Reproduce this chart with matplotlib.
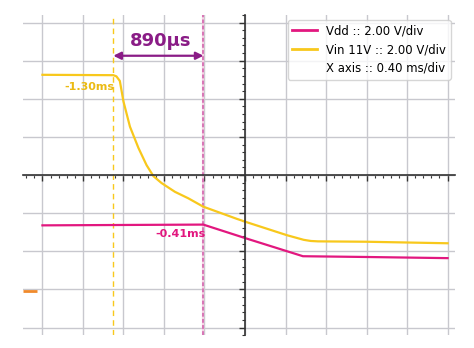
import matplotlib
matplotlib.use("Agg")
import matplotlib.pyplot as plt
from matplotlib.ticker import MultipleLocator, NullFormatter
from matplotlib.lines import Line2D

# time in ms, trace positions in screen divisions
ms_per_div = 0.40

vin_t = [-2.00, -1.30, -1.27, -1.236, -1.20, -1.136, -1.052, -0.972, -0.904,
         -0.824, -0.692, -0.56, -0.412, -0.08, 0.02, 0.416, 0.58, 0.65,
         0.72, 1.2, 2.0]
vin_y = [2.63, 2.62, 2.59, 2.47, 1.93, 1.27, 0.71, 0.26, -0.03,
         -0.21, -0.44, -0.61, -0.83, -1.15, -1.24, -1.58, -1.70, -1.73,
         -1.74, -1.75, -1.79]

vdd_t = [-2.00, -0.412, 0.02, 0.572, 1.2, 2.0]
vdd_y = [-1.32, -1.30, -1.67, -2.13, -2.15, -2.18]

cursor_vin = -1.30
cursor_vdd = -0.41
gnd_level = -3.05

pink = "#E2177F"
yellow = "#F8C81C"
purple = "#8A1C86"


def main():
    fig = plt.figure(figsize=(4.74, 3.48), dpi=100)
    ax = fig.add_axes([0.0485, 0.037, 0.912, 0.92])

    ax.set_xlim(-2.192, 2.076)
    ax.set_ylim(-4.2, 4.2)

    ax.xaxis.set_major_locator(MultipleLocator(ms_per_div))
    ax.xaxis.set_minor_locator(MultipleLocator(ms_per_div / 5))
    ax.yaxis.set_major_locator(MultipleLocator(1))
    ax.yaxis.set_minor_locator(MultipleLocator(0.2))
    ax.xaxis.set_major_formatter(NullFormatter())
    ax.yaxis.set_major_formatter(NullFormatter())
    ax.grid(True, which="major", color="#c8c8ce", lw=1.0)

    for s in ["top", "right"]:
        ax.spines[s].set_visible(False)
    ax.spines["left"].set_position(("data", 0))
    ax.spines["bottom"].set_position(("data", 0))
    for s in ["left", "bottom"]:
        ax.spines[s].set_color("#333333")
        ax.spines[s].set_linewidth(1.2)
    ax.tick_params(which="major", length=4, width=1, color="#333333")
    ax.tick_params(which="minor", length=2.5, width=0.8, color="#333333")

    # cursors
    ax.axvline(cursor_vin, color=yellow, lw=1.0, ls=(0, (4, 3)))
    ax.axvline(cursor_vdd, color="#F6D2E4", lw=1.6)
    ax.axvline(cursor_vdd, color="#CF5CA8", lw=1.1, ls=(0, (2.5, 1.5)))

    ax.plot(vdd_t, vdd_y, color=pink, lw=1.6)
    ax.plot(vin_t, vin_y, color=yellow, lw=1.6)

    # ground marker
    ax.plot([-2.192, -2.055], [gnd_level, gnd_level], color="#F08A2C", lw=2,
            clip_on=False, solid_capstyle="butt")

    ax.annotate("", xy=(cursor_vin, 3.13), xytext=(cursor_vdd, 3.13),
                arrowprops=dict(arrowstyle="<|-|>", color=purple, lw=1.6,
                                mutation_scale=11, shrinkA=0, shrinkB=0))
    ax.text(-0.83, 3.52, "890\u03bcs", color=purple, fontsize=13,
            fontweight="bold", ha="center", va="center")
    ax.text(-1.29, 2.32, "-1.30ms", color="#EBBA12", fontsize=8,
            fontweight="bold", ha="right", va="center")
    ax.text(-0.39, -1.55, "-0.41ms", color=pink, fontsize=8,
            fontweight="bold", ha="right", va="center")

    handles = [Line2D([], [], color=pink, lw=2),
               Line2D([], [], color=yellow, lw=2),
               Line2D([], [], color="none")]
    labels = ["Vdd :: 2.00 V/div", "Vin 11V :: 2.00 V/div",
              "X axis :: 0.40 ms/div"]
    ax.legend(handles, labels, loc="upper right", fontsize=8.4,
              handlelength=2.1, borderaxespad=0.4)

    fig.savefig("out.png", dpi=100)


if __name__ == "__main__":
    main()
